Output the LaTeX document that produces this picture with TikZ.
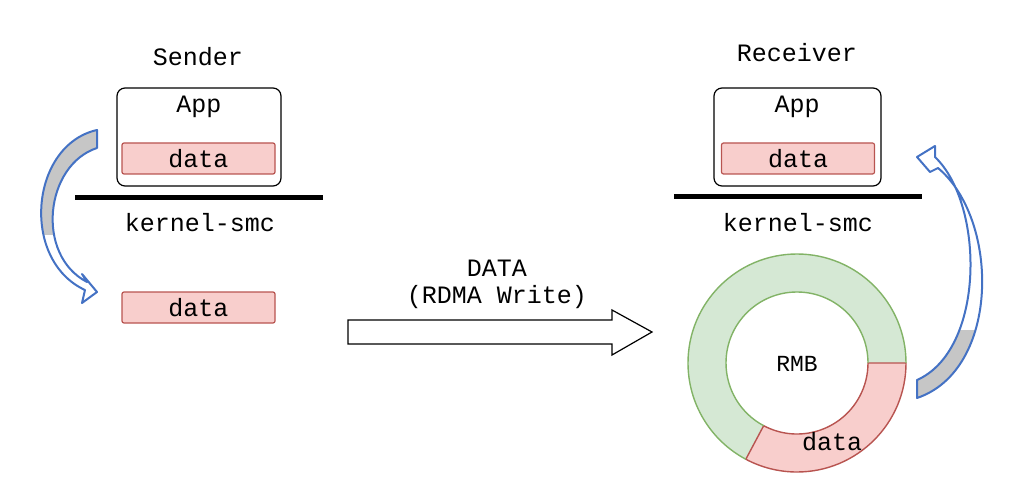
\documentclass[tikz,border=0pt]{standalone}
\usepackage{fontspec}
\setmainfont{Liberation Mono}
\definecolor{rfill}{HTML}{F8CECC}
\definecolor{rline}{HTML}{B85450}
\definecolor{gfill}{HTML}{D5E8D4}
\definecolor{gline}{HTML}{82B366}
\definecolor{bline}{HTML}{4472C4}
\begin{document}
\begin{tikzpicture}[x=1pt,y=-1pt,
  lbl/.style={font=\fontsize{25}{28}\selectfont, inner sep=0},
  appbox/.style={draw=black, line width=1.2pt, rounded corners=8pt},
  databox/.style={draw=rline, fill=rfill, line width=1.2pt, rounded corners=2pt, minimum width=153pt, minimum height=31pt, font=\fontsize{25}{28}\selectfont},
  bar/.style={line width=5pt},
  carrow/.style={draw=bline, line width=2pt, line join=round}]
\useasboundingbox (0,0) rectangle (1023,489);
% sender
\node[lbl] (snd) at (198,57) {Sender};
\draw[appbox] (117,88) rectangle (281,186);
\node[lbl] (sapp) at (199,107) {App};
\node[databox] (sd1) at (198.5,158.5) {data};
\draw[bar] (75,198) -- (323,198);
\node[lbl] (sk) at (200,223) {kernel-smc};
\node[databox] (sd2) at (198.5,307.5) {data};
% receiver
\node[lbl] (rcv) at (797,53) {Receiver};
\draw[appbox] (714,88) rectangle (881,186);
\node[lbl] (rapp) at (797,107) {App};
\node[databox] (rd1) at (798,158.5) {data};
\draw[bar] (674,197) -- (922,197);
\node[lbl] (rk) at (798,223) {kernel-smc};
% ring
\fill[gfill, even odd rule] (797,363) circle (109) (797,363) circle (71);
\draw[rline, fill=rfill, line width=1.4pt] (797,363) ++(0:109) arc[start angle=0,end angle=118,radius=109] -- ++(298:38) arc[start angle=118,end angle=0,radius=71] -- cycle;
\draw[gline, line width=1.4pt] (797,363) ++(0:71) arc[start angle=360,end angle=118,radius=71];
\draw[gline, line width=1.4pt] (797,363) ++(0:109) arc[start angle=360,end angle=118,radius=109];
\node[inner sep=0, font=\fontsize{23}{26}\selectfont] (rmb) at (797,364) {RMB};
\node[lbl] (rdata) at (832,442) {data};
% big arrow
\node[lbl] (d1) at (497,268) {DATA};
\node[lbl] (d2) at (497,297) {(RDMA Write)};
\draw[line width=1.2pt, fill=white] (348,320) -- (612,320) -- (612,310) -- (652,332) -- (612,355) -- (612,344) -- (348,344) -- cycle;
% left curved arrow
\begin{scope}
\clip (0,0) rectangle (200,235);
\fill[gray!45] (97,130) .. controls (30,145) and (20,260) .. (85,290) -- (87,282) .. controls (35,255) and (45,165) .. (97,148) -- cycle;
\end{scope}
\draw[carrow] (97,130) .. controls (30,145) and (20,260) .. (85,290) -- (82,303) -- (97,292) -- (82,274) -- (87,282) .. controls (35,255) and (45,165) .. (97,148) -- cycle;
% right curved arrow
\begin{scope}
\clip (900,330) rectangle (1023,489);
\fill[gray!45] (917,398) .. controls (1000,370) and (1000,220) .. (938,168) -- (935,157) .. controls (985,205) and (985,350) .. (917,380) -- cycle;
\end{scope}
\draw[carrow] (917,398) .. controls (1000,370) and (1000,220) .. (938,168) -- (930,172) -- (917,157) -- (935,146) -- (935,157) .. controls (985,205) and (985,350) .. (917,380) -- cycle;
\end{tikzpicture}
\end{document}
